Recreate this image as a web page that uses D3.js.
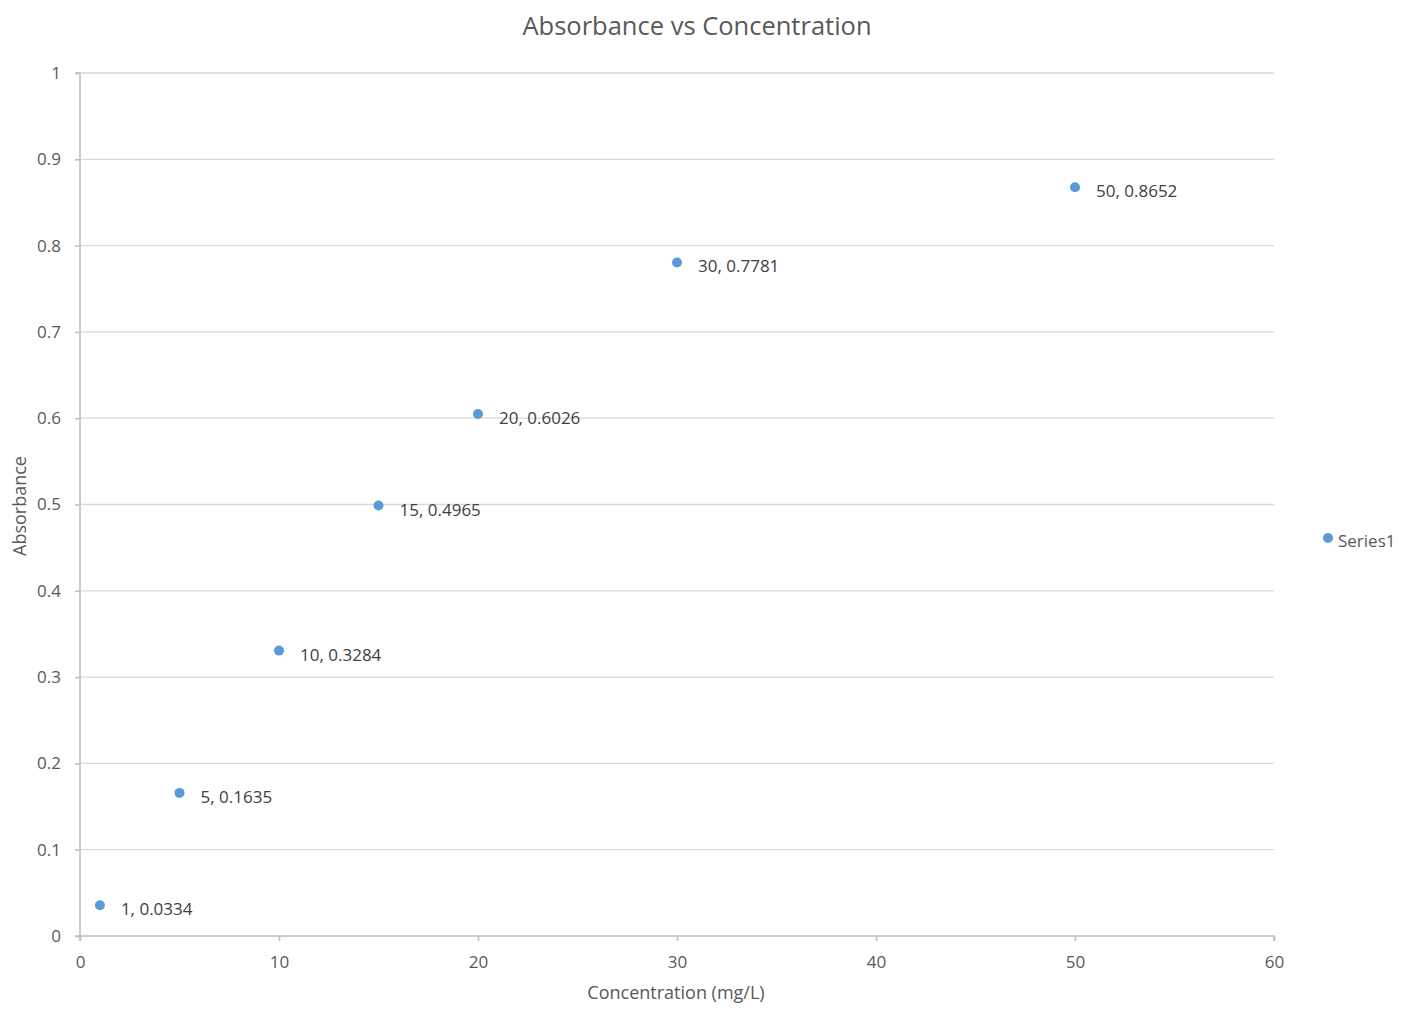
<!DOCTYPE html>
<html><head><meta charset="utf-8">
<script src="https://cdn.jsdelivr.net/npm/d3@7"></script>
<style>body{margin:0;background:#fff;} svg{display:block;font-family:"Open Sans",Lato,sans-serif;}</style>
</head><body>
<svg id="c" width="1420" height="1020"></svg>
<script>
const concentrations = [1, 5, 10, 15, 20, 30, 50];
const absorbances = [0.0334, 0.1635, 0.3284, 0.4965, 0.6026, 0.7781, 0.8652];
const xTicks = [0, 10, 20, 30, 40, 50, 60];
const yTicks = [0, 0.1, 0.2, 0.3, 0.4, 0.5, 0.6, 0.7, 0.8, 0.9, 1];
const seriesName = "Series1";
const titleText = "Absorbance vs Concentration";
const xTitle = "Concentration (mg/L)";
const yTitle = "Absorbance";

const svg = d3.select("#c");
const L = 80, R = 1274, T = 73, B = 936;
const x = d3.scaleLinear().domain([0, 60]).range([L, R]);
const y = d3.scaleLinear().domain([0, 1]).range([B, T]);
const grid = "#d9d9d9", axisC = "#bfbfbf", tickText = "#595959";

// gridlines
svg.append("g").selectAll("line").data(yTicks.filter(d => d > 0)).join("line")
  .attr("x1", L).attr("x2", R).attr("y1", d => y(d)).attr("y2", d => y(d))
  .attr("stroke", grid).attr("stroke-width", 1.3);

// y axis
const ya = svg.append("g").attr("transform", `translate(${L},0)`)
  .call(d3.axisLeft(y).tickValues(yTicks).tickFormat(d => d3.format("~g")(d)).tickSize(5).tickPadding(14));
// x axis
const xa = svg.append("g").attr("transform", `translate(0,${B})`)
  .call(d3.axisBottom(x).tickValues(xTicks).tickFormat(d3.format("d")).tickSize(5).tickPadding(15));
[ya, xa].forEach(g => {
  g.select(".domain").attr("stroke", axisC).attr("stroke-width", 1.6);
  g.selectAll(".tick line").attr("stroke", axisC).attr("stroke-width", 1.6);
  g.selectAll(".tick text").attr("fill", tickText).attr("font-size", 17).attr("font-family", "'Open Sans',Lato,sans-serif");
});
ya.select(".domain").attr("d", `M-5,${B}H0V${T}H-5`);
xa.select(".domain").attr("d", `M${L},5V0H${R}V5`);

const data = concentrations.map((c, i) => ({c, a: absorbances[i]}));
// points
svg.append("g").selectAll("circle").data(data).join("circle")
  .attr("cx", d => x(d.c)).attr("cy", d => y(d.a) - 2).attr("r", 5).attr("fill", "#5b9bd5");
// labels
svg.append("g").selectAll("text").data(data).join("text")
  .attr("x", d => x(d.c) + 21).attr("y", d => y(d.a) + 8)
  .attr("font-size", 17).attr("fill", "#404040")
  .text(d => `${d.c}, ${d.a}`);

// title
svg.append("text").attr("x", 697).attr("y", 35).attr("text-anchor", "middle")
  .attr("font-size", 25.5).attr("fill", tickText).text(titleText);
svg.append("text").attr("x", 676).attr("y", 999).attr("text-anchor", "middle")
  .attr("font-size", 18).attr("fill", tickText).text(xTitle);
svg.append("text").attr("transform", "translate(26,506) rotate(-90)").attr("text-anchor", "middle")
  .attr("font-size", 18).attr("fill", tickText).text(yTitle);

// legend
svg.append("circle").attr("cx", 1328).attr("cy", 538).attr("r", 5).attr("fill", "#5b9bd5");
svg.append("text").attr("x", 1338).attr("y", 547).attr("font-size", 17).attr("fill", tickText).text(seriesName);
</script>
</body></html>
